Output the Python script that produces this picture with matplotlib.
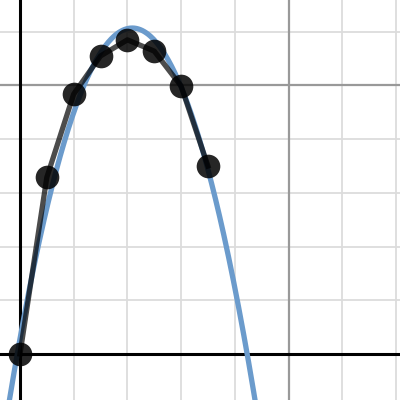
import numpy as np
import matplotlib
matplotlib.use('Agg')
import matplotlib.pyplot as plt

# measured points (grid units, one minor cell = 1)
x_pts = [0.0, 0.5, 1.0, 1.5, 2.0, 2.5, 3.0, 3.5]
y_pts = [0.0, 3.29, 4.84, 5.55, 5.85, 5.64, 4.99, 3.50]

# fitted parabola y = peak_y - curv * (x - peak_x)^2
peak_x = 2.09
peak_y = 6.07
curv = 1.325

x_min, x_max = -0.372, 7.076
y_min, y_max = -0.857, 6.592

fig = plt.figure(figsize=(4, 4), dpi=100)
ax = fig.add_axes([0, 0, 1, 1])
ax.set_xlim(x_min, x_max)
ax.set_ylim(y_min, y_max)
ax.axis('off')

# grid
for gx in range(0, 8):
    if gx == 5:
        ax.axvline(gx, color='#999999', lw=1.6, zorder=1)
    elif gx != 0:
        ax.axvline(gx, color='#dcdcdc', lw=1.3, zorder=0)
for gy in range(0, 7):
    if gy == 5:
        ax.axhline(gy, color='#999999', lw=1.6, zorder=1)
    elif gy != 0:
        ax.axhline(gy, color='#dcdcdc', lw=1.3, zorder=0)
ax.axhline(0, color='black', lw=2.2, zorder=2)
ax.axvline(0, color='black', lw=2.2, zorder=2)

xs = np.linspace(x_min, x_max, 400)
ax.plot(xs, peak_y - curv * (xs - peak_x) ** 2, color='#6b9bcc', lw=3.8,
        solid_capstyle='round', zorder=3)

ax.plot(x_pts, y_pts, color='black', alpha=0.7, lw=3.8, zorder=4)
ax.scatter(x_pts, y_pts, s=290, color='black', alpha=0.85, lw=0, zorder=5)

plt.savefig('out.png', dpi=100)
